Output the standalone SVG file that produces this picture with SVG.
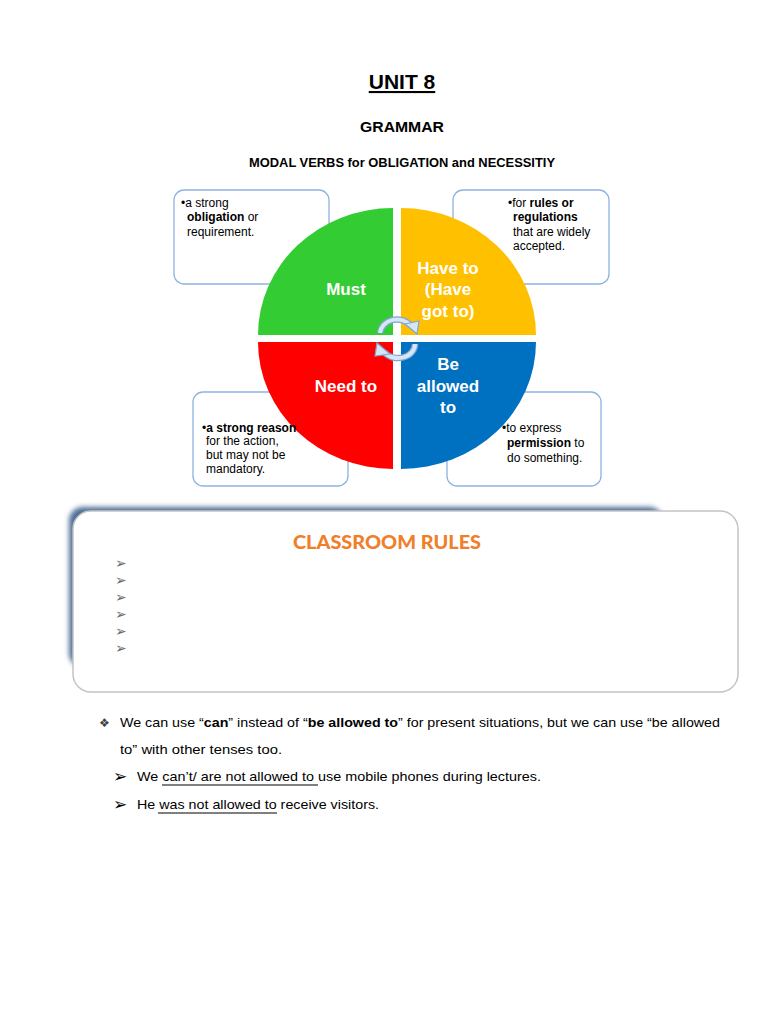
<svg xmlns="http://www.w3.org/2000/svg" width="768" height="1024" viewBox="0 0 768 1024">
<style>
.t{font-family:"Liberation Sans",Arial,sans-serif;fill:#000}
.b{font-weight:bold}
.box{fill:#fff;stroke:#8db3e2;stroke-width:1.3}
.q{font-family:"Liberation Sans",Arial,sans-serif;font-weight:bold;font-size:17px;fill:#fff;text-anchor:middle}
.bt{font-family:"Liberation Sans",Arial,sans-serif;font-size:12px;fill:#000}
.sym{font-family:"DejaVu Sans",sans-serif}
.arw{fill:none;stroke:#7ea6d3;stroke-width:6.5}
.arwi{fill:none;stroke:#d6e6f5;stroke-width:4}
</style>
<defs>
<filter id="sh" x="-10%" y="-20%" width="120%" height="140%"><feGaussianBlur stdDeviation="2.5"/></filter>
</defs>
<rect width="768" height="1024" fill="#fff"/>

<g id="title">
<text class="t b" x="402" y="89" font-size="21" text-anchor="middle" text-decoration="underline">UNIT 8</text>
<text class="t b" x="402" y="132" font-size="14.5" text-anchor="middle" textLength="84" lengthAdjust="spacingAndGlyphs">GRAMMAR</text>
<text class="t b" x="402" y="167" font-size="12.5" text-anchor="middle" textLength="306" lengthAdjust="spacingAndGlyphs">MODAL VERBS for OBLIGATION and NECESSITIY</text>
</g>

<g id="box-must">
<rect class="box" x="174" y="190" width="155" height="94" rx="10"/>
<text class="bt" x="181" y="207">•a strong</text>
<text class="bt" x="187" y="221"><tspan class="b">obligation</tspan> or</text>
<text class="bt" x="187" y="236">requirement.</text>
</g>
<g id="box-haveto">
<rect class="box" x="453" y="190" width="156" height="94" rx="10"/>
<text class="bt" x="508" y="207">•for <tspan class="b">rules or</tspan></text>
<text class="bt b" x="513" y="221">regulations</text>
<text class="bt" x="513" y="236">that are widely</text>
<text class="bt" x="513" y="250">accepted.</text>
</g>
<g id="box-needto">
<rect class="box" x="193" y="392" width="155" height="94" rx="10"/>
</g>
<g id="box-allowed">
<rect class="box" x="447" y="392" width="154" height="94" rx="10"/>
</g>

<g id="must">
<path d="M393,335 L258,335 A135,127 0 0 1 393,208 Z" fill="#33cc33"/>
<text class="q" x="346" y="295">Must</text>
</g>
<g id="have-to">
<path d="M401,335 L401,208 A135,127 0 0 1 536,335 Z" fill="#ffc000"/>
<text class="q" x="448" y="274">Have to</text>
<text class="q" x="448" y="295">(Have</text>
<text class="q" x="448" y="317">got to)</text>
</g>
<g id="need-to">
<path d="M393,342 L393,469 A135,127 0 0 1 258,342 Z" fill="#ff0000"/>
<text class="q" x="346" y="392">Need to</text>
</g>
<g id="be-allowed">
<path d="M401,342 L536,342 A135,127 0 0 1 401,469 Z" fill="#0070c0"/>
<text class="q" x="448" y="370">Be</text>
<text class="q" x="448" y="392">allowed</text>
<text class="q" x="448" y="413">to</text>
</g>

<g id="box-texts-lower">
<text class="bt" x="202" y="432">•<tspan class="b">a strong reason</tspan></text>
<text class="bt" x="206" y="445">for the action,</text>
<text class="bt" x="206" y="459">but may not be</text>
<text class="bt" x="206" y="473">mandatory.</text>
<text class="bt" x="502" y="432">•to express</text>
<text class="bt" x="507" y="447"><tspan class="b">permission</tspan> to</text>
<text class="bt" x="507" y="462">do something.</text>
</g>

<g id="connectors">
<path class="arw" d="M380,333 A17,15 0 0 1 411,326"/>
<path class="arwi" d="M380,333 A17,15 0 0 1 411,326"/>
<polygon points="405,324 419,321 417,334" fill="#d6e6f5" stroke="#7ea6d3" stroke-width="1.2"/>
<path class="arw" d="M415,344 A17,14 0 0 1 384,352"/>
<path class="arwi" d="M415,344 A17,14 0 0 1 384,352"/>
<polygon points="390,354 375,356 377,343" fill="#d6e6f5" stroke="#7ea6d3" stroke-width="1.2"/>
</g>

<g id="classroom-rules">
<rect x="69" y="507" width="594" height="160" rx="14" fill="#4f6f96" filter="url(#sh)"/>
<rect x="73" y="511" width="665" height="181" rx="18" fill="#fff" stroke="#c4c4c4" stroke-width="1.5"/>
<text x="387" y="549" font-family="Lato,'Liberation Sans',sans-serif" font-weight="900" font-size="19" fill="#f07f2b" text-anchor="middle" textLength="188" lengthAdjust="spacingAndGlyphs">CLASSROOM RULES</text>
<g class="sym" font-size="14" fill="#6a6a6a">
<text x="115" y="568">➢</text>
<text x="115" y="585">➢</text>
<text x="115" y="602">➢</text>
<text x="115" y="619">➢</text>
<text x="115" y="636">➢</text>
<text x="115" y="653">➢</text>
</g>
</g>

<g id="notes">
<text class="sym" x="99" y="727" font-size="12" fill="#404040">❖</text>
<text class="t" x="120" y="727" font-size="13.5" textLength="600" lengthAdjust="spacingAndGlyphs">We can use “<tspan class="b">can</tspan>” instead of “<tspan class="b">be allowed to</tspan>” for present situations, but we can use “be allowed</text>
<text class="t" x="120" y="754" font-size="13.5" textLength="162" lengthAdjust="spacingAndGlyphs">to” with other tenses too.</text>
<text class="sym" x="113" y="782" font-size="17" fill="#000">➢</text>
<text class="t" x="137" y="781" font-size="13.5" textLength="404" lengthAdjust="spacingAndGlyphs">We can’t/ are not allowed to use mobile phones during lectures.</text>
<line x1="162" y1="785" x2="318" y2="785" stroke="#000" stroke-width="1"/>
<text class="sym" x="113" y="810" font-size="17" fill="#000">➢</text>
<text class="t" x="137" y="809" font-size="13.5" textLength="242" lengthAdjust="spacingAndGlyphs">He was not allowed to receive visitors.</text>
<line x1="158" y1="813" x2="277" y2="813" stroke="#000" stroke-width="1"/>
</g>
</svg>
